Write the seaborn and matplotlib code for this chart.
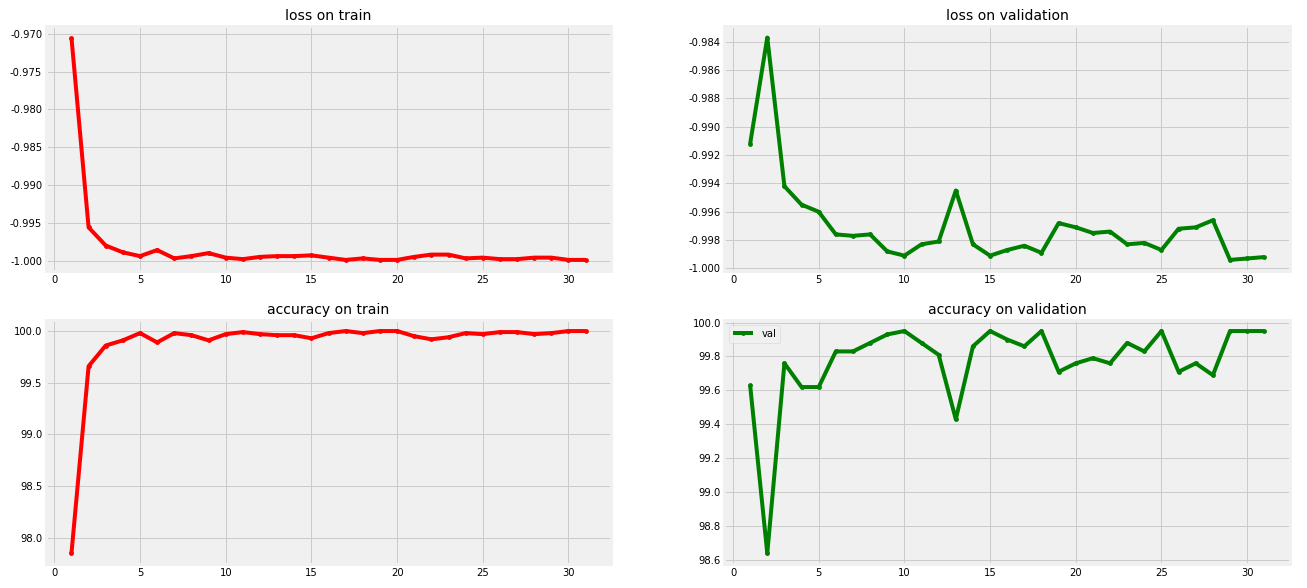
import numpy as np
import pandas as pd
import matplotlib
matplotlib.use("Agg")
import matplotlib.pyplot as plt
import seaborn as sns

epochs = list(range(1, 32))
train_loss = [-0.9705, -0.9956, -0.9980, -0.9989, -0.9994, -0.9986, -0.9997, -0.9994, -0.9990, -0.9996,
              -0.9998, -0.9995, -0.9994, -0.9994, -0.9993, -0.9996, -0.9999, -0.9997, -0.9999, -0.9999,
              -0.9995, -0.9992, -0.9992, -0.9997, -0.9996, -0.9998, -0.9998, -0.9996, -0.9996, -0.9999, -0.9999]
val_loss = [-0.9912, -0.9837, -0.9942, -0.9955, -0.9960, -0.9976, -0.9977, -0.9976, -0.9988, -0.9991,
            -0.9983, -0.9981, -0.9945, -0.9983, -0.9991, -0.9987, -0.9984, -0.9989, -0.9968, -0.9971,
            -0.9975, -0.9974, -0.9983, -0.9982, -0.9987, -0.9972, -0.9971, -0.9966, -0.9994, -0.9993, -0.9992]
train_acc = [97.85, 99.66, 99.86, 99.91, 99.98, 99.89, 99.98, 99.96, 99.91, 99.97,
             99.99, 99.97, 99.96, 99.96, 99.93, 99.98, 100.0, 99.98, 100.0, 100.0,
             99.95, 99.92, 99.94, 99.98, 99.97, 99.99, 99.99, 99.97, 99.98, 100.0, 100.0]
val_acc = [99.63, 98.64, 99.76, 99.62, 99.62, 99.83, 99.83, 99.88, 99.93, 99.95,
           99.88, 99.81, 99.43, 99.86, 99.95, 99.90, 99.86, 99.95, 99.71, 99.76,
           99.79, 99.76, 99.88, 99.83, 99.95, 99.71, 99.76, 99.69, 99.95, 99.95, 99.95]

plt.style.use('fivethirtyeight')
plt.rcParams.update({'figure.facecolor': 'white', 'savefig.facecolor': 'white',
                     'font.size': 10, 'xtick.labelsize': 10, 'ytick.labelsize': 10,
                     'axes.titlesize': 14, 'font.family': 'DejaVu Sans'})

fig, axes = plt.subplots(2, 2, figsize=(1307 / 72, 588 / 72), dpi=72)
fig.subplots_adjust(left=0.035, right=0.987, top=0.955, bottom=0.04, wspace=0.2, hspace=0.2)

panels = [
    (axes[0, 0], train_loss, 'red', 'loss on train', None),
    (axes[0, 1], val_loss, 'green', 'loss on validation', None),
    (axes[1, 0], train_acc, 'red', 'accuracy on train', None),
    (axes[1, 1], val_acc, 'green', 'accuracy on validation', 'val'),
]
for ax, vals, color, title, label in panels:
    df = pd.DataFrame({'epoch': epochs, 'value': vals})
    sns.lineplot(data=df, x='epoch', y='value', color=color, marker='.', markersize=8,
                 markeredgecolor=color, linewidth=4, ax=ax, label=label)
    ax.set_title(title)
    ax.set_xlabel('')
    ax.set_ylabel('')
    ax.set_xticks([0, 5, 10, 15, 20, 25, 30])
    if label is None and ax.get_legend() is not None:
        ax.get_legend().remove()

axes[0, 0].yaxis.set_major_formatter(matplotlib.ticker.FormatStrFormatter('%.3f'))
axes[0, 1].set_yticks(np.arange(-1.0, -0.9839, 0.002))
axes[0, 1].yaxis.set_major_formatter(matplotlib.ticker.FormatStrFormatter('%.3f'))
axes[1, 1].legend(loc='upper left', fontsize=10)

fig.savefig('out.png', dpi=72)
